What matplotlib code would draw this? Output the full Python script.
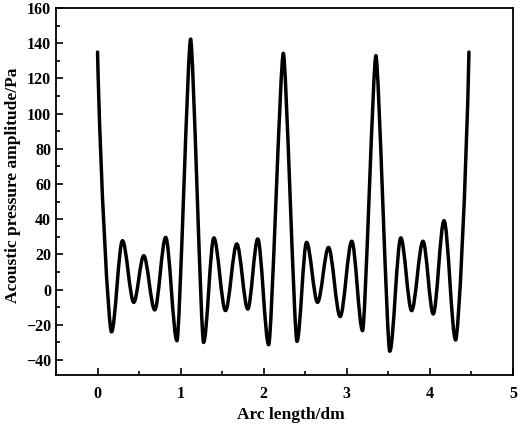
import numpy as np
import matplotlib
matplotlib.use("Agg")
import matplotlib.pyplot as plt
from matplotlib.path import Path
import matplotlib.patches as patches
from matplotlib.ticker import MultipleLocator

# values (turning points of the curve)
arc_length = [0.0, 0.168, 0.30, 0.436, 0.556, 0.688, 0.82, 0.956, 1.12, 1.276,
              1.40, 1.54, 1.676, 1.808, 1.928, 2.06, 2.236, 2.40, 2.516, 2.648,
              2.78, 2.92, 3.06, 3.19, 3.35, 3.517, 3.65, 3.78, 3.917, 4.04,
              4.17, 4.31, 4.47]
amplitude = [135, -24, 27.8, -7.2, 19.3, -11.5, 29.7, -29, 142.4, -30,
             29.4, -11.9, 26, -11, 28.8, -31.3, 134.3, -29.4, 26.9, -7.2,
             24, -15.3, 27.5, -23.3, 133, -35, 29.4, -11.9, 27.5, -13.8,
             39.2, -28.6, 135]

plt.rcParams['font.family'] = ['Liberation Serif', 'DejaVu Serif']
plt.rcParams['font.weight'] = 'bold'

fig = plt.figure(figsize=(5.2, 4.25), dpi=100, facecolor="white")
ax = fig.add_axes([0.1077, 0.1176, 0.8788, 0.8634])

# smooth curve through the turning points (horizontal tangent at extrema)
x = np.array(arc_length)
y = np.array(amplitude)
verts = [(x[0], y[0])]
codes = [Path.MOVETO]
n = len(x)
for i in range(n - 1):
    dx = x[i + 1] - x[i]
    dy = y[i + 1] - y[i]
    k = 1 / 3 if abs(dy) < 80 else 0.2
    if i == 0:
        c1 = (x[i] + dx * 0.2, y[i] + dy * 0.45)
    else:
        c1 = (x[i] + dx * k, y[i])
    if i == n - 2:
        c2 = (x[i + 1] - dx * 0.2, y[i + 1] - dy * 0.45)
    else:
        c2 = (x[i + 1] - dx * k, y[i + 1])
    verts += [c1, c2, (x[i + 1], y[i + 1])]
    codes += [Path.CURVE4, Path.CURVE4, Path.CURVE4]

curve = patches.PathPatch(Path(verts, codes), facecolor='none',
                          edgecolor='black', linewidth=2.5, capstyle='round',
                          joinstyle='round')
ax.add_patch(curve)

ax.set_xlim(-0.5, 5)
ax.set_ylim(-48.5, 160)
ax.xaxis.set_major_locator(MultipleLocator(1))
ax.xaxis.set_minor_locator(MultipleLocator(0.5))
ax.yaxis.set_major_locator(MultipleLocator(20))
ax.yaxis.set_minor_locator(MultipleLocator(10))

ax.tick_params(which='both', direction='in', top=False, right=False,
               labelsize=11.5, width=1.2)
ax.tick_params(which='major', length=5)
ax.tick_params(which='minor', length=3)
ax.tick_params(axis='x', pad=8)
for lab in ax.get_xticklabels() + ax.get_yticklabels():
    lab.set_fontweight('bold')
for sp in ax.spines.values():
    sp.set_linewidth(1.3)

ax.set_xlabel("Arc length/dm", fontsize=12.5, fontweight='bold')
ax.set_ylabel("Acoustic pressure amplitude/Pa", fontsize=12.5,
              fontweight='bold')
ax.xaxis.set_label_coords(0.514, -0.086)
ax.yaxis.set_label_coords(-0.077, 0.518)

fig.savefig("out.png", dpi=100)
